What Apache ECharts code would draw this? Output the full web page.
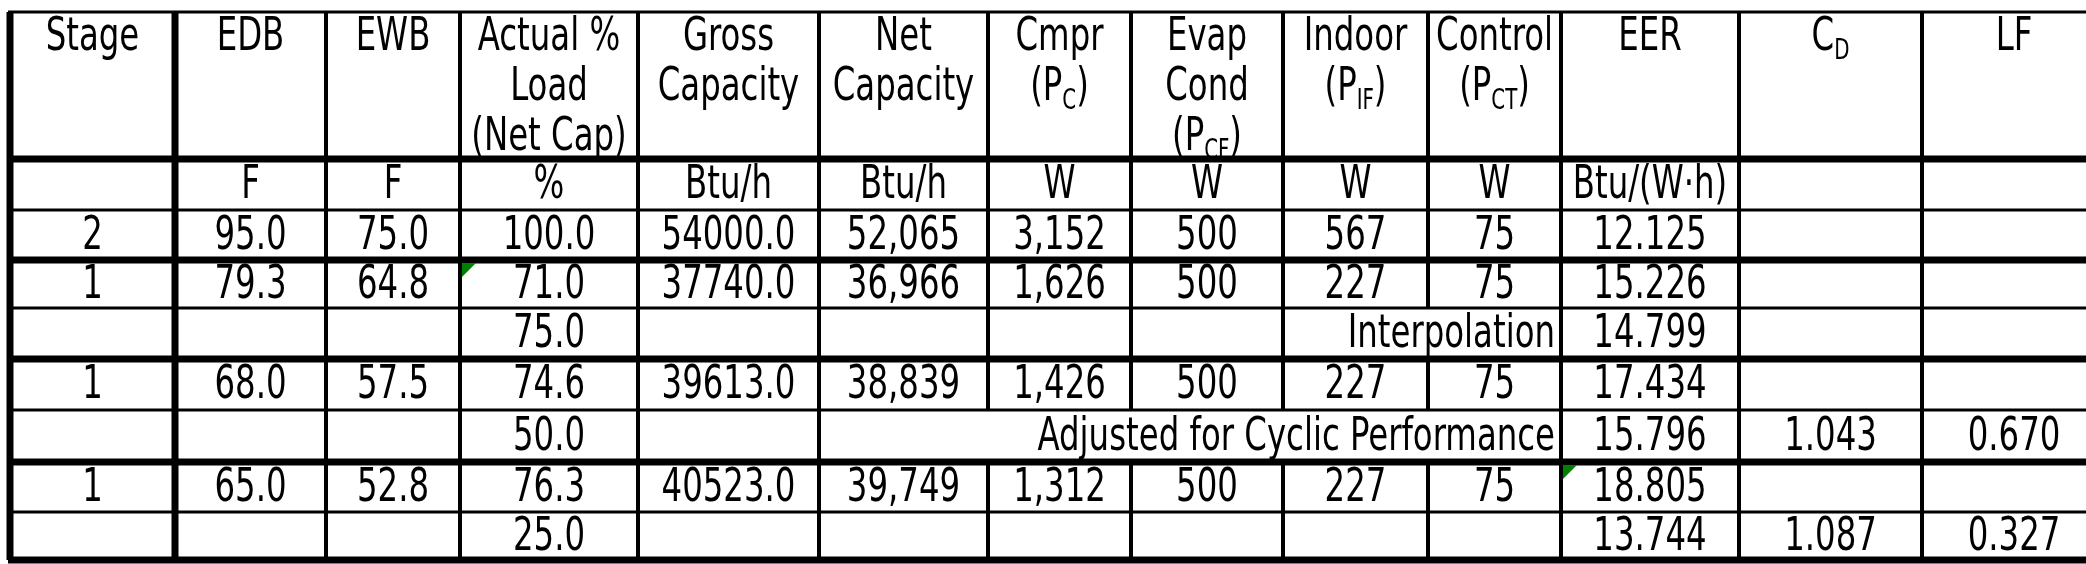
<!DOCTYPE html>
<html><head><meta charset="utf-8">
<script src="https://cdn.jsdelivr.net/npm/echarts@6/dist/echarts.min.js"></script>
<style>html,body{margin:0;padding:0;background:#fff}#c{width:2086px;height:564px}</style>
</head><body><div id="c"></div>
<script>
const headers = [
 ['Stage'], ['EDB'], ['EWB'], ['Actual %','Load','(Net Cap)'], ['Gross','Capacity'], ['Net','Capacity'],
 ['Cmpr','(P{s|C})'], ['Evap','Cond','(P{s|CF})'], ['Indoor','(P{s|IF})'], ['Control','(P{s|CT})'],
 ['EER'], ['C{s|D}'], ['LF']
];
const units = ['', 'F', 'F', '%', 'Btu/h', 'Btu/h', 'W', 'W', 'W', 'W', 'Btu/(W·h)', '', ''];
const stage = ['2','1','','1','','1',''];
const edb = ['95.0','79.3','','68.0','','65.0',''];
const ewb = ['75.0','64.8','','57.5','','52.8',''];
const load = ['100.0','71.0','75.0','74.6','50.0','76.3','25.0'];
const gross = ['54000.0','37740.0','','39613.0','','40523.0',''];
const net = ['52,065','36,966','','38,839','','39,749',''];
const cmpr = ['3,152','1,626','','1,426','','1,312',''];
const evap = ['500','500','','500','','500',''];
const indoor = ['567','227','','227','','227',''];
const control = ['75','75','','75','','75',''];
const eer = ['12.125','15.226','14.799','17.434','15.796','18.805','13.744'];
const cd = ['','','','','1.043','','1.087'];
const lf = ['','','','','0.670','','0.327'];
// merged notes: [row, fromCol, toCol, text]
const merges = [[2,8,9,'Interpolation'],[4,5,9,'Adjusted for Cyclic Performance']];

const colX = [10,175,326,460,638,819,988,1131,1283,1428,1561,1739,1922,2106];
const rowY = [12,159,210,260,308,359,410,462,512,560];
const thickRows = [159,260,359,462,560];
const thickCols = [10,175];
const FONT = '"DejaVu Sans Condensed","DejaVu Sans",sans-serif';
const FS = 36;

const cols = [stage,edb,ewb,load,gross,net,cmpr,evap,indoor,control,eer,cd,lf];
const g = [];
const rich = {s:{fontSize:22, fontFamily:FONT, padding:[22,0,0,0], fill:'#000'}};
function txt(x,y,s,align){
  g.push({type:'text',x:x,y:y,scaleY:1.28,z:10,style:{text:s,fontFamily:FONT,fontSize:FS,fill:'#000',align:align||'center',verticalAlign:'middle',rich:rich}});
}
headers.forEach((h,c)=>{
  const cx=(colX[c]+colX[c+1])/2;
  h.forEach((l,i)=>txt(cx,38+i*50,l));
});
units.forEach((u,c)=>{ if(u) txt((colX[c]+colX[c+1])/2,(rowY[1]+rowY[2])/2+2,u); });
for(let r=0;r<7;r++){
  const cy=(rowY[r+2]+rowY[r+3])/2+2;
  cols.forEach((arr,c)=>{ if(arr[r]) txt((colX[c]+colX[c+1])/2,cy,arr[r]); });
}
merges.forEach(m=>{ const cy=(rowY[m[0]+2]+rowY[m[0]+3])/2+2; txt(colX[m[2]+1]-6,cy,m[3],'right'); });
rowY.forEach(y=>{
  const w=thickRows.includes(y)?7:3;
  g.push({type:'line',shape:{x1:colX[0]-2,y1:y,x2:2086,y2:y},style:{stroke:'#000',lineWidth:w}});
});
for(let c=0;c<colX.length-1;c++){
  const x=colX[c]; const w=thickCols.includes(x)?7:4;
  for(let r=0;r<rowY.length-1;r++){
    const dr=r-2;
    if(merges.some(m=>m[0]===dr && c>m[1] && c<=m[2])) continue;
    g.push({type:'line',shape:{x1:x,y1:rowY[r],x2:x,y2:rowY[r+1]},style:{stroke:'#000',lineWidth:w}});
  }
}
[[3,1],[10,5]].forEach(([c,r])=>{
  const x=colX[c]+2, y=rowY[r+2]+3;
  g.push({type:'polygon',shape:{points:[[x,y],[x+14,y],[x,y+14]]},style:{fill:'#008000'}});
});
const chart=echarts.init(document.getElementById('c'));
chart.setOption({animation:false,graphic:g});
</script></body></html>
